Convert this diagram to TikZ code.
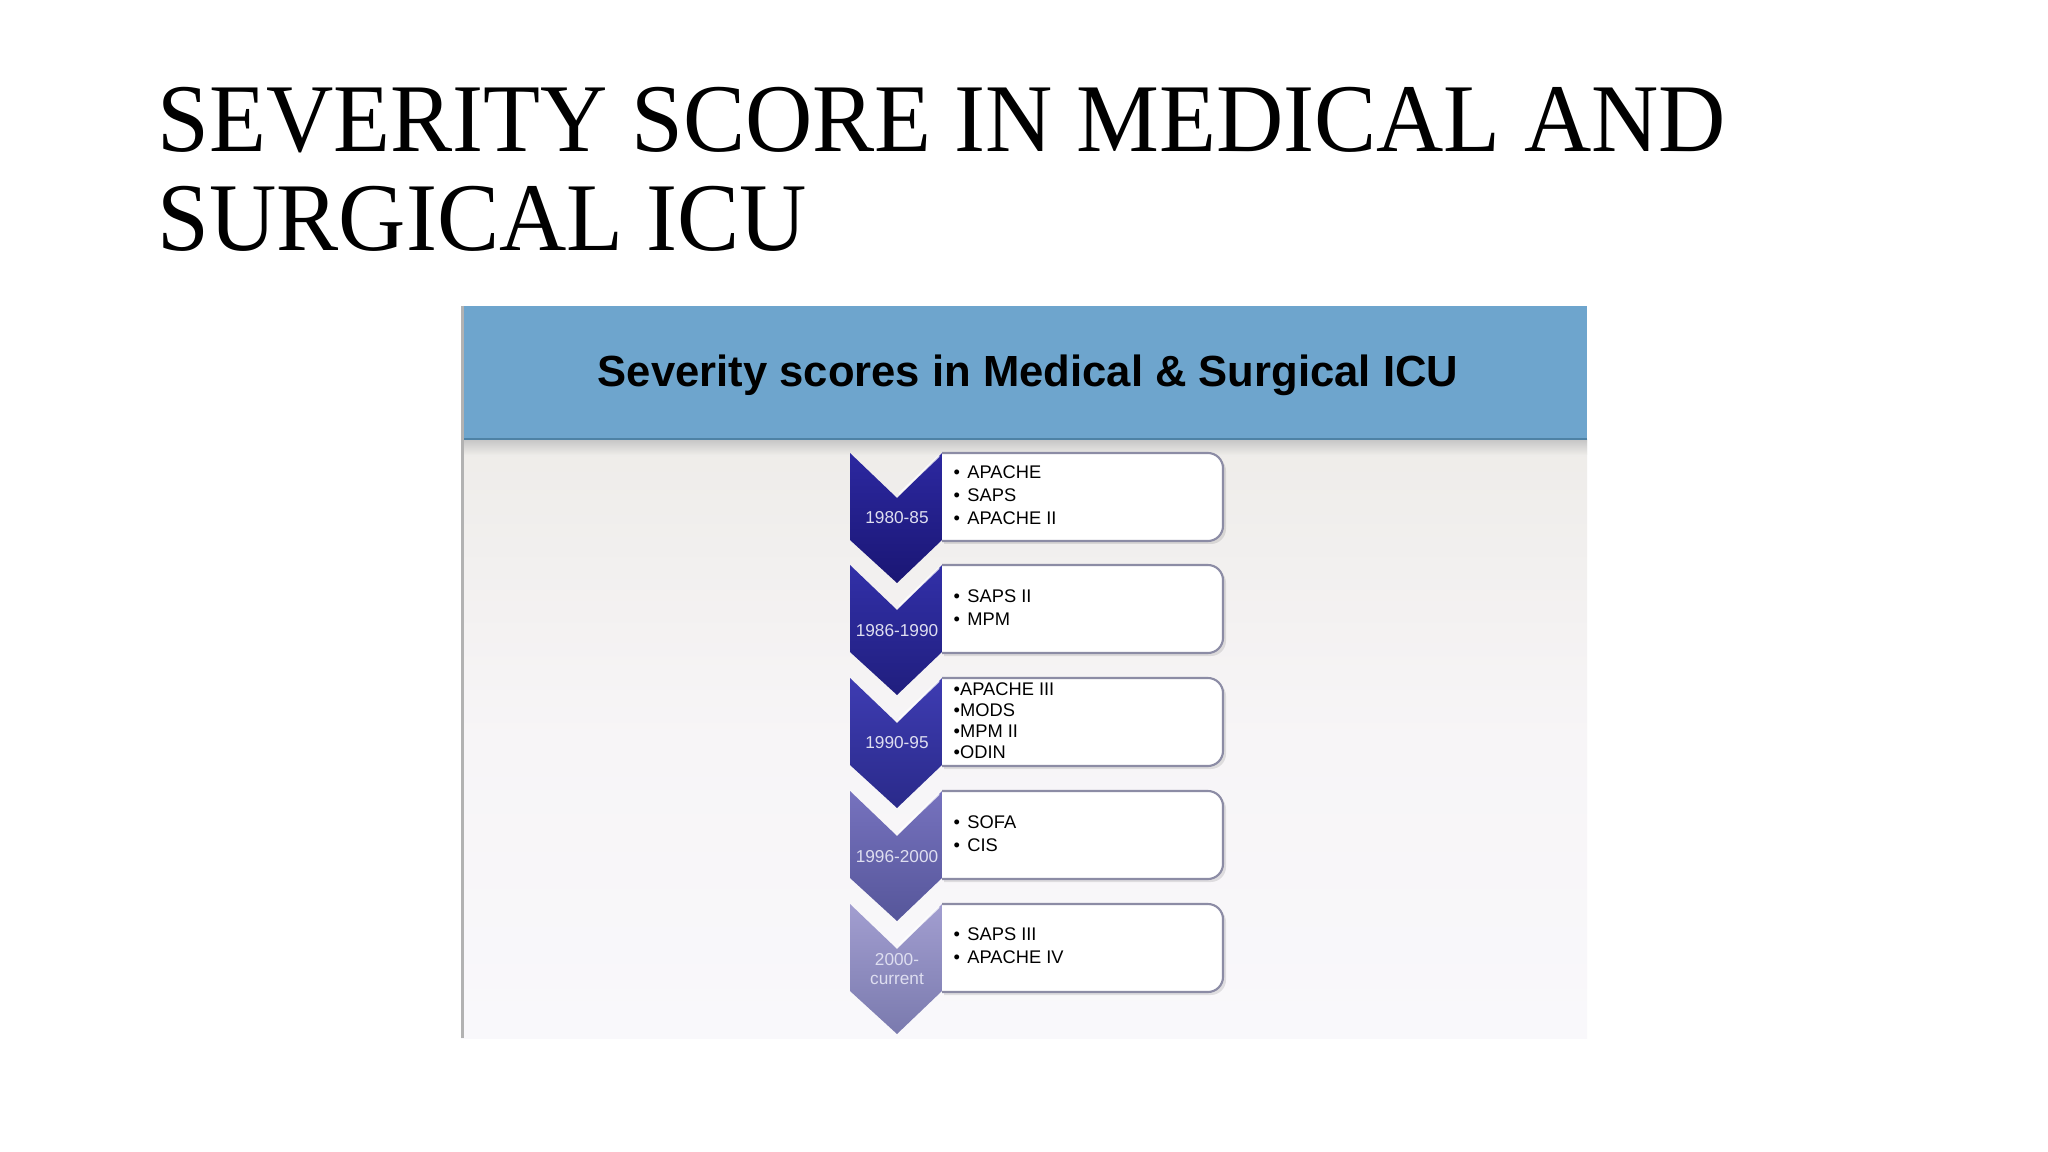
\documentclass[tikz,border=0pt]{standalone}
\usepackage{fontspec}
\setmainfont{Liberation Serif}
\newfontfamily\titlefont[FakeStretch=0.96]{Liberation Serif}
\newfontfamily\slidefont{Liberation Sans}

\definecolor{bandblue}{RGB}{110,165,205}
\definecolor{bandedge}{RGB}{78,130,165}
\definecolor{slidetop}{RGB}{238,236,233}
\definecolor{slidemid}{RGB}{247,245,247}
\definecolor{slidebottom}{RGB}{249,248,251}
\definecolor{boxline}{RGB}{140,140,165}
\definecolor{yeartext}{RGB}{222,222,240}
\definecolor{chevAtop}{RGB}{44,40,160}
\definecolor{chevAbot}{RGB}{26,22,116}
\definecolor{chevBtop}{RGB}{50,48,168}
\definecolor{chevBbot}{RGB}{32,30,126}
\definecolor{chevCtop}{RGB}{62,60,178}
\definecolor{chevCbot}{RGB}{42,42,138}
\definecolor{chevDtop}{RGB}{118,114,190}
\definecolor{chevDbot}{RGB}{86,86,154}
\definecolor{chevEtop}{RGB}{162,158,208}
\definecolor{chevEbot}{RGB}{122,122,174}

\begin{document}
\begin{tikzpicture}[x=0.01cm, y=-0.01cm]
\tikzset{year text/.style={font=\slidefont\fontsize{4.9pt}{5.4pt}\selectfont, text=yeartext, inner sep=0, align=center},
         item text/.style={font=\slidefont\fontsize{5.2pt}{6.5pt}\selectfont, anchor=west, inner sep=0, align=left},
         box style/.style={fill=white, draw=boxline, line width=0.6pt, rounded corners=4.3pt},
         box shadow/.style={fill=black, opacity=0.10, rounded corners=4.3pt},
         glint/.style={draw=white, opacity=0.7, line width=0.6pt}}

\useasboundingbox (0,0) rectangle (2048,1152);
\fill[white] (0,0) rectangle (2048,1152);

% title
\node[anchor=base west, inner sep=0, font=\titlefont\fontsize{27.6pt}{28pt}\selectfont] (title1) at (157,152) {SEVERITY SCORE IN MEDICAL AND};
\node[anchor=base west, inner sep=0, font=\titlefont\fontsize{27.6pt}{28pt}\selectfont] (title2) at (157,251) {SURGICAL ICU};

% slide
\shade[top color=slidetop, bottom color=slidebottom, middle color=slidemid] (461,440) rectangle (1587,1038);
\shade[top color=black!22, bottom color=slidetop] (461,440) rectangle (1587,455);
\fill[bandblue] (461,306) rectangle (1587,440);
\draw[bandedge, line width=0.6pt] (461,439) -- (1587,439);
\draw[black!30, line width=0.9pt] (462.5,306) -- (462.5,1038);
\node[font=\slidefont\bfseries\fontsize{12.4pt}{14pt}\selectfont] (head) at (1028,375) {Severity scores in Medical \& Surgical ICU};

% boxes
\fill[box shadow] (944,456) -- (1226,456) -- (1226,544) -- (944,544);
\fill[box shadow] (944,568) -- (1226,568) -- (1226,656) -- (944,656);
\fill[box shadow] (944,681) -- (1226,681) -- (1226,769) -- (944,769);
\fill[box shadow] (944,794) -- (1226,794) -- (1226,882) -- (944,882);
\fill[box shadow] (944,907) -- (1226,907) -- (1226,995) -- (944,995);
\filldraw[box style] (942,453) -- (1223,453) -- (1223,541) -- (942,541);
\filldraw[box style] (942,565) -- (1223,565) -- (1223,653) -- (942,653);
\filldraw[box style] (942,678) -- (1223,678) -- (1223,766) -- (942,766);
\filldraw[box style] (942,791) -- (1223,791) -- (1223,879) -- (942,879);
\filldraw[box style] (942,904) -- (1223,904) -- (1223,992) -- (942,992);

% chevrons
\shade[top color=chevAtop, bottom color=chevAbot] (850,453) -- (897,498) -- (942,453) -- (942,540) -- (897,583) -- (850,540) -- cycle;
\shade[top color=chevBtop, bottom color=chevBbot] (850,565) -- (897,610) -- (942,565) -- (942,652) -- (897,695) -- (850,652) -- cycle;
\shade[top color=chevCtop, bottom color=chevCbot] (850,678) -- (897,723) -- (942,678) -- (942,765) -- (897,808) -- (850,765) -- cycle;
\shade[top color=chevDtop, bottom color=chevDbot] (850,791) -- (897,836) -- (942,791) -- (942,878) -- (897,921) -- (850,878) -- cycle;
\shade[top color=chevEtop, bottom color=chevEbot] (850,904) -- (897,949) -- (942,904) -- (942,991) -- (897,1034) -- (850,991) -- cycle;
\draw[glint] (899,494) -- (939,456);
\draw[glint] (899,606) -- (939,568);
\draw[glint] (899,719) -- (939,681);
\draw[glint] (899,832) -- (939,794);
\draw[glint] (899,945) -- (939,907);

% years
\node[year text] (yr1) at (897,518) {1980-85};
\node[year text] (yr2) at (897,631) {1986-1990};
\node[year text] (yr3) at (897,743) {1990-95};
\node[year text] (yr4) at (897,857) {1996-2000};
\node[year text] (yr5) at (897,969) {2000-\\current};

% scores
\node[item text] (it1) at (953,495) {•\hspace{0.4em}APACHE\\•\hspace{0.4em}SAPS\\•\hspace{0.4em}APACHE II};
\node[item text] (it2) at (953,608) {•\hspace{0.4em}SAPS II\\•\hspace{0.4em}MPM};
\node[item text, font=\slidefont\fontsize{5.2pt}{6pt}\selectfont] (it3) at (953,721) {•APACHE III\\•MODS\\•MPM II\\•ODIN};
\node[item text] (it4) at (953,834) {•\hspace{0.4em}SOFA\\•\hspace{0.4em}CIS};
\node[item text] (it5) at (953,946) {•\hspace{0.4em}SAPS III\\•\hspace{0.4em}APACHE IV};
\end{tikzpicture}
\end{document}
